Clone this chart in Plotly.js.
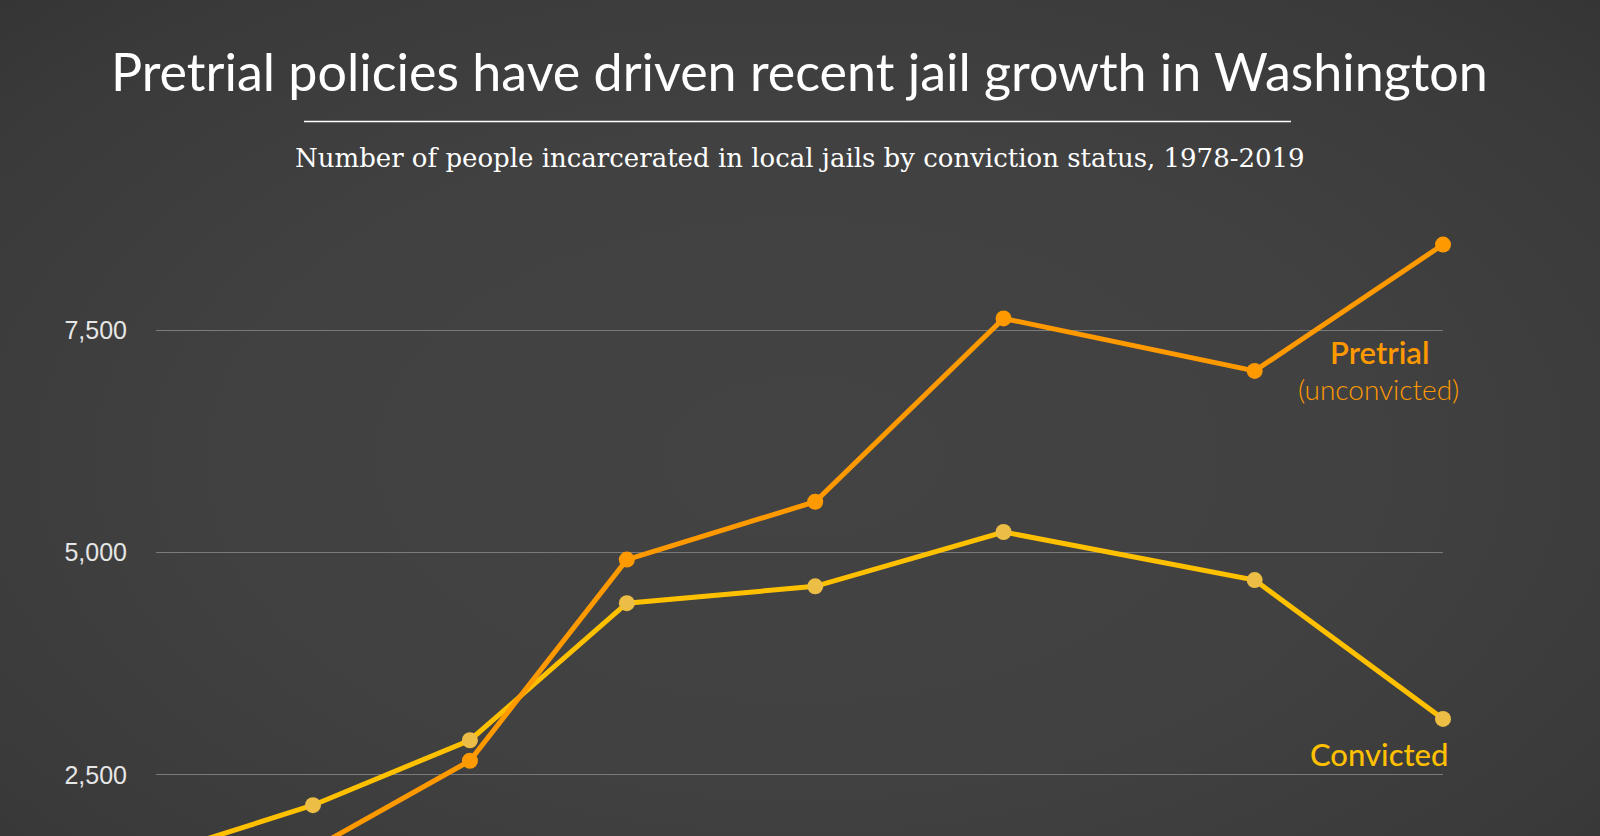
<!DOCTYPE html>
<html>
<head>
<meta charset="utf-8">
<script src="https://cdn.plot.ly/plotly-3.0.1.min.js"></script>
<style>
  html, body { margin: 0; padding: 0; width: 1600px; height: 836px; overflow: hidden; }
  body { background: radial-gradient(ellipse at 50% 55%, #434343 0%, #414141 50%, #3a3a3a 85%, #353535 100%); }
  #chart { width: 1600px; height: 836px; }
</style>
</head>
<body>
<div id="chart"></div>
<script>
// Data
const years = [1978, 1983, 1988, 1993, 1999, 2005, 2013, 2019];
const pretrial = [1000, 1670, 2660, 4920, 5570, 7630, 7040, 8460];
const convicted = [1600, 2160, 2890, 4430, 4620, 5230, 4690, 3130];
const yTicks = [2500, 5000, 7500];
const yTickText = ["2,500", "5,000", "7,500"];

const titleText = "Pretrial policies have driven recent jail growth in Washington";
const subtitleText = "Number of people incarcerated in local jails by conviction status, 1978-2019";

const ORANGE = "#FF9900";
const YELLOW = "#FFC000";
const YELLOW_MARK = "#EDBE45";

const traces = [
  {
    x: years, y: convicted, type: "scatter", mode: "lines+markers", name: "Convicted",
    line: { color: YELLOW, width: 5 },
    marker: { color: YELLOW_MARK, size: 16 },
    cliponaxis: false, hoverinfo: "x+y"
  },
  {
    x: years, y: pretrial, type: "scatter", mode: "lines+markers", name: "Pretrial",
    line: { color: ORANGE, width: 5 },
    marker: { color: ORANGE, size: 16 },
    cliponaxis: false, hoverinfo: "x+y"
  }
];

const layout = {
  width: 1600, height: 836,
  paper_bgcolor: "rgba(0,0,0,0)",
  plot_bgcolor: "rgba(0,0,0,0)",
  margin: { l: 156, r: 157, t: 200, b: 0, pad: 0 },
  showlegend: false,
  xaxis: {
    range: [1978, 2019],
    showgrid: false, zeroline: false, showline: false,
    showticklabels: false, ticks: ""
  },
  yaxis: {
    range: [1814, 8961],
    tickvals: yTicks, ticktext: yTickText,
    showgrid: true, gridcolor: "#7a7a7a", gridwidth: 1,
    zeroline: false, showline: false, ticks: "",
    ticklabelstandoff: 28,
    tickfont: { family: "Liberation Sans, Arial, sans-serif", size: 25, color: "#e6e6e6" }
  },
  annotations: [
    {
      xref: "paper", yref: "paper", x: 0.5, y: (836 - 71) / 636,
      xanchor: "center", yanchor: "middle", showarrow: false,
      text: titleText,
      font: { family: "Lato, 'Noto Sans', sans-serif", size: 52, color: "#ffffff" }
    },
    {
      xref: "paper", yref: "paper", x: 0.5, y: (836 - 158) / 636,
      xanchor: "center", yanchor: "middle", showarrow: false,
      text: subtitleText,
      font: { family: "'DejaVu Serif', 'Liberation Serif', serif", size: 26, color: "#ffffff" }
    },
    {
      xref: "x", yref: "y", x: 2019, y: 7253, xshift: -12,
      xanchor: "right", yanchor: "middle", showarrow: false,
      text: "Pretrial",
      font: { family: "Lato, sans-serif", size: 31, color: ORANGE, weight: 600 }
    },
    {
      xref: "x", yref: "y", x: 2019, y: 6837, xshift: 18,
      xanchor: "right", yanchor: "middle", showarrow: false,
      text: "(unconvicted)",
      font: { family: "Lato, sans-serif", size: 28, color: ORANGE, weight: 300 }
    },
    {
      xref: "x", yref: "y", x: 2019, y: 2735, xshift: 7,
      xanchor: "right", yanchor: "middle", showarrow: false,
      text: "Convicted",
      font: { family: "Lato, sans-serif", size: 31, color: YELLOW, weight: 500 }
    }
  ],
  shapes: [
    {
      type: "line", xref: "paper", yref: "paper",
      x0: (304 - 156) / 1287, x1: (1291 - 156) / 1287,
      y0: (836 - 121.5) / 636, y1: (836 - 121.5) / 636,
      line: { color: "#ffffff", width: 1.5 }
    }
  ]
};

Plotly.newPlot("chart", traces, layout, { displayModeBar: false, staticPlot: true });
</script>
</body>
</html>
